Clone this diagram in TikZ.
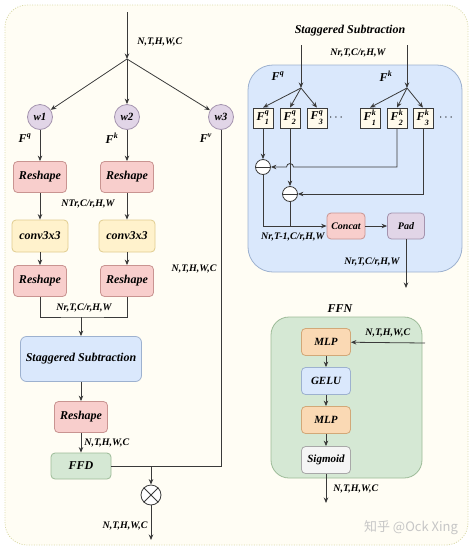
\documentclass[tikz,border=0pt]{standalone}
\usepackage{fontspec}
\setmainfont{Liberation Serif}
\newfontfamily\cjk{Noto Sans CJK SC}
\usepackage{amsmath}
\usetikzlibrary{arrows.meta,backgrounds}

\definecolor{bgfill}{HTML}{FFFDF4}
\definecolor{bgline}{HTML}{D9D9A6}
\definecolor{redfill}{HTML}{F8CECC}
\definecolor{redline}{HTML}{C99491}
\definecolor{yelfill}{HTML}{FFF2CC}
\definecolor{yelline}{HTML}{E0CC8F}
\definecolor{bluefill}{HTML}{DAE8FC}
\definecolor{blueline}{HTML}{9DB1CF}
\definecolor{grnfill}{HTML}{D5E8D4}
\definecolor{grnline}{HTML}{9DBB98}
\definecolor{purfill}{HTML}{E1D5E7}
\definecolor{purline}{HTML}{A493AE}
\definecolor{orgfill}{HTML}{FAD9B4}
\definecolor{orgline}{HTML}{D2A878}
\definecolor{gryfill}{HTML}{F5F5F5}
\definecolor{gryline}{HTML}{A8A8A8}
\definecolor{wire}{HTML}{3A3A3A}

\newcommand{\fsub}[2]{$\text{F}^{\text{\raisebox{0.5pt}{#1}}}_{\text{\raisebox{-2pt}{#2}}}$}

\begin{document}
\begin{tikzpicture}[x=1pt,y=-1pt,
font=\bfseries\itshape\fontsize{12}{14}\selectfont,
>={Stealth[length=5.5pt,width=4.5pt]},
every path/.style={line width=0.8pt},
box/.style={draw, rounded corners=4pt, minimum width=53pt, minimum height=31pt, inner sep=1pt},
small/.style={font=\bfseries\itshape\fontsize{10}{12}\selectfont},
dim/.style={small, inner sep=1pt},
wnode/.style={circle, draw=purline, fill=purfill, minimum size=25pt, inner sep=0pt, font=\bfseries\itshape\fontsize{11}{13}\selectfont},
fbox/.style={draw=wire, fill=white!60!yelfill, minimum size=20pt, inner sep=0pt, font=\bfseries\itshape\fontsize{12}{12}\selectfont},
op/.style={circle, draw=wire, fill=white, inner sep=0pt}]
\useasboundingbox (0,0) rectangle (474,550);

% background
\draw[draw=bgline, fill=bgfill, dash pattern=on 1pt off 1.5pt, rounded corners=22pt] (5,5) rectangle (468,545);

% left branch
\node[wnode] (w1) at (40,117) {w1};
\node[wnode] (w2) at (127,117) {w2};
\node[wnode] (w3) at (221,117) {w3};
\coordinate (top) at (127,12);
\coordinate (split) at (127,59);
\draw[wire,->] (top) -- (split);
\node[dim, anchor=west] at (136,42) {N,T,H,W,C};
\foreach \w in {w1,w2,w3}
  \draw[wire,->] (split) -- (\w);
\node at (25,138) {$\text{F}^{\text{q}}$};
\node at (112,138) {$\text{F}^{\text{k}}$};
\node at (206,138) {$\text{F}^{\text{v}}$};

\node[box, fill=redfill, draw=redline] (rs1) at (40,177) {Reshape};
\node[box, fill=redfill, draw=redline] (rs2) at (127,177) {Reshape};
\node[box, fill=yelfill, draw=yelline, minimum width=56pt, minimum height=32pt] (cv1) at (40,236) {conv3x3};
\node[box, fill=yelfill, draw=yelline, minimum width=56pt, minimum height=32pt] (cv2) at (127,236) {conv3x3};
\node[box, fill=redfill, draw=redline] (rs3) at (40,281) {Reshape};
\node[box, fill=redfill, draw=redline] (rs4) at (127,281) {Reshape};
\node[box, fill=bluefill, draw=blueline, minimum width=121pt, minimum height=45pt, rounded corners=6pt] (ss) at (81,359) {Staggered Subtraction};
\node[box, fill=redfill, draw=redline] (rs5) at (81,417) {Reshape};
\node[box, fill=grnfill, draw=grnline, minimum width=60pt, minimum height=26pt] (ffd) at (81,466) {FFD};

\draw[wire,->] (w1) -- (rs1);
\draw[wire,->] (w2) -- (rs2);
\draw[wire,->] (rs1) -- (cv1);
\draw[wire,->] (rs2) -- (cv2);
\draw[wire,->] (cv1) -- (rs3);
\draw[wire,->] (cv2) -- (rs4);
\node[dim] at (88,204) {NTr,C/r,H,W};
\coordinate (mg) at (81,317);
\draw[wire] (rs3.south) |- (mg) -| (rs4.south);
\node[dim] at (84,308) {Nr,T,C/r,H,W};
\draw[wire,->] (mg) -- (ss);
\draw[wire,->] (ss) -- (rs5);
\draw[wire,->] (rs5) -- (ffd);
\node[dim, anchor=west] at (83,443) {N,T,H,W,C};

\node[op, minimum size=20pt] (mul) at (151,495) {};
\draw[wire] (mul.45) -- (mul.225) (mul.135) -- (mul.315);
\coordinate (jn) at (151,466);
\draw[wire] (w3) |- (jn);
\draw[wire] (ffd) -- (jn);
\draw[wire,->] (jn) -- (mul);
\node[dim, anchor=east] at (218,269) {N,T,H,W,C};
\coordinate (out) at (151,540);
\draw[wire,->] (mul) -- (out);
\node[dim, anchor=east] at (149,526) {N,T,H,W,C};

% staggered subtraction detail
\node at (350,31) {Staggered Subtraction};
\draw[draw=blueline, fill=bluefill, rounded corners=25pt] (248,65) rectangle (462,272);
\coordinate (sq) at (301,45);
\coordinate (sk) at (407,45);
\coordinate (jq) at (301,88);
\coordinate (jk) at (407,88);
\draw[wire,->] (sq) -- (jq);
\draw[wire,->] (sk) -- (jk);
\node[dim] at (358,53) {Nr,T,C/r,H,W};
\node at (278,76) {$\text{F}^{\text{q}}$};
\node at (386,76) {$\text{F}^{\text{k}}$};

\node[fbox] (fq1) at (263,118) {\fsub{q}{1}};
\node[fbox] (fq2) at (290,118) {\fsub{q}{2}};
\node[fbox] (fq3) at (317,118) {\fsub{q}{3}};
\node (dq) at (337,118) {$\cdots$};
\node[fbox] (fk1) at (370,118) {\fsub{k}{1}};
\node[fbox] (fk2) at (397,118) {\fsub{k}{2}};
\node[fbox] (fk3) at (423,118) {\fsub{k}{3}};
\node (dk) at (447,118) {$\cdots$};
\foreach \f in {fq1,fq2,fq3}
  \draw[wire,->] (jq) -- (\f.north);
\foreach \f in {fk1,fk2,fk3}
  \draw[wire,->] (jk) -- (\f.north);

\node[op, minimum size=15pt] (s1) at (263,167) {};
\draw[wire] (s1.west) -- (s1.east);
\node[op, minimum size=15pt] (s2) at (290,194) {};
\draw[wire] (s2.west) -- (s2.east);
\coordinate (hop) at (290,167);
\draw[wire,->] (fq1) -- (s1);
\draw[wire,->] (fq2) -- (s2);
\draw[wire,->] (fk2.south) |- ([xshift=3.5pt]hop) arc[start angle=0, end angle=180, radius=3.5pt] -- (s1.east);
\draw[wire,->] (fk3.south) |- (s2.east);

\node[box, fill=redfill, draw=redline, minimum width=38pt, minimum height=26pt, small] (cat) at (346,226) {Concat};
\node[box, fill=purfill, draw=purline, minimum width=37pt, minimum height=26pt, small] (pad) at (406,226) {Pad};
\draw[wire,->] (s1.south) |- (cat.west);
\draw[wire] (s2.south) -- (s2.south |- cat.west);
\draw[wire,->] (cat) -- (pad);
\node[dim, anchor=east] at (326,237) {Nr,T-1,C/r,H,W};
\coordinate (padout) at (406,288);
\draw[wire,->] (pad) -- (padout);
\node[dim, anchor=east] at (401,262) {Nr,T,C/r,H,W};

% FFN
\node at (340,309) {FFN};
\draw[draw=grnline, fill=grnfill, rounded corners=18pt] (271,317) rectangle (422,478);
\node[box, fill=orgfill, draw=orgline, minimum width=49pt, minimum height=27pt, font=\bfseries\itshape\fontsize{11}{13}\selectfont] (mlp1) at (326,342) {MLP};
\node[box, fill=bluefill, draw=blueline, minimum width=49pt, minimum height=27pt, font=\bfseries\itshape\fontsize{11}{13}\selectfont] (gelu) at (326,381) {GELU};
\node[box, fill=orgfill, draw=orgline, minimum width=49pt, minimum height=27pt, font=\bfseries\itshape\fontsize{11}{13}\selectfont] (mlp2) at (326,420) {MLP};
\node[box, fill=gryfill, draw=gryline, minimum width=49pt, minimum height=27pt, font=\bfseries\itshape\fontsize{11}{13}\selectfont] (sig) at (326,460) {Sigmoid};
\coordinate (fin) at (425,343);
\draw[wire,->] (fin) -- (mlp1);
\node[dim, anchor=west] at (364,333) {N,T,H,W,C};
\draw[wire,->] (mlp1) -- (gelu);
\draw[wire,->] (gelu) -- (mlp2);
\draw[wire,->] (mlp2) -- (sig);
\coordinate (fout) at (326,503);
\draw[wire,->] (sig) -- (fout);
\node[dim, anchor=west] at (332,489) {N,T,H,W,C};

\node[text=gray!45, font=\cjk\fontsize{13}{15}\selectfont] at (411,528) {知乎 @Ock Xing};
\end{tikzpicture}
\end{document}
